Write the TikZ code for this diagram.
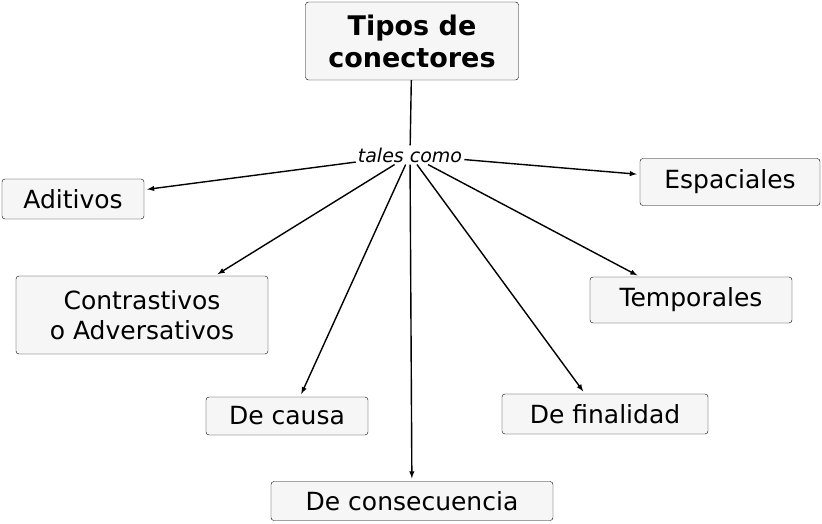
\documentclass[tikz,border=0pt]{standalone}
\usepackage{fontspec}
\setmainfont{DejaVu Sans}
\begin{document}
\begin{tikzpicture}[x=1pt,y=-1pt,
  box/.style={draw=black,rounded corners=3pt,fill=cyan!4!gray!8,font=\fontsize{25}{30}\selectfont,align=center,inner sep=3pt},
  arr/.style={->,>=latex,line width=1.4pt,shorten >=3pt}]
\useasboundingbox (0,0) rectangle (822,524);
\node[box,minimum width=213pt,minimum height=78pt,font=\fontsize{27}{32}\selectfont\bfseries] (t) at (412,41) {Tipos de\\conectores};
\node[font=\fontsize{19}{22}\selectfont\itshape,inner sep=2pt] (tc) at (410,155) {tales como};
\node[box,minimum width=142pt,minimum height=40pt] (a) at (73,199) {Aditivos};
\node[box,minimum width=252pt,minimum height=78pt] (c) at (142,315) {Contrastivos\\o Adversativos};
\node[box,minimum width=162pt,minimum height=38pt] (dc) at (287,416) {De causa};
\node[box,minimum width=282pt,minimum height=39pt] (dq) at (412,501) {De consecuencia};
\node[box,minimum width=206pt,minimum height=40pt] (df) at (605,414) {De finalidad};
\node[box,minimum width=202pt,minimum height=46pt] (tp) at (691,300) {Temporales};
\node[box,minimum width=180pt,minimum height=47pt] (e) at (730,182) {Espaciales};
\draw[line width=1.4pt] (t) -- (tc);
\draw[arr] (tc) -- (a);
\draw[arr] (tc) -- (c.north -| 215,0);
\draw[arr] (tc) -- (dc.north -| 300,0);
\draw[arr] (tc) -- (dq);
\draw[arr] (tc) -- (df.north -| 585,0);
\draw[arr] (tc) -- (tp.north -| 640,0);
\draw[arr] (tc) -- (e);
\end{tikzpicture}
\end{document}
